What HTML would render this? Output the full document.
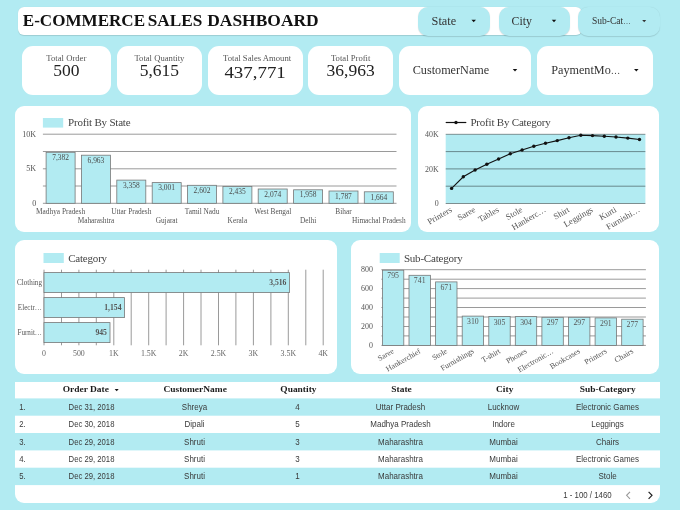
<!DOCTYPE html><html><head><meta charset="utf-8"><style>
html,body{margin:0;padding:0;}
body{width:680px;height:510px;overflow:hidden;background:#b2ebf2;position:relative;font-family:"Liberation Serif", serif;}
svg{position:absolute;left:0;top:0;will-change:transform;}
</style></head><body>
<div style="position:absolute;left:17.5px;top:7px;width:564.5px;height:28.200000000000003px;border-radius:6px;background:#fff;box-shadow:0 0.5px 0.8px rgba(0,0,0,0.13);"></div>
<div style="position:absolute;left:417.5px;top:7px;width:72.5px;height:28.5px;border-radius:10px;background:#b2ebf2;box-shadow:0 0.6px 1px rgba(0,0,0,0.13);"></div>
<div style="position:absolute;left:498.5px;top:7px;width:71.5px;height:28.5px;border-radius:10px;background:#b2ebf2;box-shadow:0 0.6px 1px rgba(0,0,0,0.13);"></div>
<div style="position:absolute;left:578px;top:7px;width:82px;height:28.5px;border-radius:10px;background:#b2ebf2;box-shadow:0 0.6px 1px rgba(0,0,0,0.13);"></div>
<div style="position:absolute;left:22px;top:46.2px;width:88.7px;height:48.7px;border-radius:11px;background:#fff;"></div>
<div style="position:absolute;left:116.8px;top:46.2px;width:85.2px;height:48.7px;border-radius:11px;background:#fff;"></div>
<div style="position:absolute;left:207.5px;top:46.2px;width:95.19999999999999px;height:48.7px;border-radius:11px;background:#fff;"></div>
<div style="position:absolute;left:308.3px;top:46.2px;width:84.69999999999999px;height:48.7px;border-radius:11px;background:#fff;"></div>
<div style="position:absolute;left:399.3px;top:46.2px;width:131.90000000000003px;height:48.7px;border-radius:11px;background:#fff;"></div>
<div style="position:absolute;left:537px;top:46.2px;width:115.89999999999998px;height:48.7px;border-radius:11px;background:#fff;"></div>
<div style="position:absolute;left:15px;top:105.5px;width:396px;height:126.30000000000001px;border-radius:9px;background:#fff;"></div>
<div style="position:absolute;left:417.7px;top:105.5px;width:241.59999999999997px;height:126.30000000000001px;border-radius:9px;background:#fff;"></div>
<div style="position:absolute;left:14.7px;top:240.2px;width:322.1px;height:133.5px;border-radius:9px;background:#fff;"></div>
<div style="position:absolute;left:350.7px;top:240.2px;width:308.8px;height:133.5px;border-radius:9px;background:#fff;"></div>
<div style="position:absolute;left:14.6px;top:381.8px;width:645.6px;height:121.09999999999997px;border-radius:0 0 9px 9px;background:#fff;"></div>
<svg width="680" height="510" viewBox="0 0 680 510">
<text x="0" y="0" transform="translate(22.80 26.00) scale(1.08 1)" font-size="15.8" fill="#111" font-family='"Liberation Serif", serif' font-weight="bold" text-anchor="start" letter-spacing="0" >E-COMMERCE</text>
<text x="0" y="0" transform="translate(147.80 26.00) scale(1.09 1)" font-size="15.8" fill="#111" font-family='"Liberation Serif", serif' font-weight="bold" text-anchor="start" letter-spacing="0" >SALES</text>
<text x="0" y="0" transform="translate(207.20 26.00) scale(1.105 1)" font-size="15.8" fill="#111" font-family='"Liberation Serif", serif' font-weight="bold" text-anchor="start" letter-spacing="0" >DASHBOARD</text>
<text x="0" y="0" transform="translate(431.60 24.60) scale(1.06 1)" font-size="11.6" fill="#333" font-family='"Liberation Serif", serif' font-weight="normal" text-anchor="start" letter-spacing="0" >State</text>
<path d="M471.45 19.85 L475.95 19.85 L473.7 22.35 Z" fill="#111"/>
<text x="0" y="0" transform="translate(511.60 24.60) scale(1.02 1)" font-size="11.6" fill="#333" font-family='"Liberation Serif", serif' font-weight="normal" text-anchor="start" letter-spacing="0" >City</text>
<path d="M551.75 19.85 L556.25 19.85 L554 22.35 Z" fill="#111"/>
<text x="592" y="24.2" font-size="9.5" fill="#333" font-family='"Liberation Serif", serif' font-weight="normal" text-anchor="start" letter-spacing="0" >Sub-Cat<tspan font-size='7.5'>…</tspan></text>
<path d="M642.2 19.950000000000003 L646.2 19.950000000000003 L644.2 22.25 Z" fill="#333"/>
<text x="0" y="0" transform="translate(66.35 60.60) scale(1.03 1)" font-size="8.4" fill="#555" font-family='"Liberation Serif", serif' font-weight="normal" text-anchor="middle" letter-spacing="0" >Total Order</text>
<text x="66.35" y="76.1" font-size="17.5" fill="#222" font-family='"Liberation Serif", serif' font-weight="normal" text-anchor="middle" letter-spacing="0" >500</text>
<text x="0" y="0" transform="translate(159.40 60.60) scale(1.03 1)" font-size="8.4" fill="#555" font-family='"Liberation Serif", serif' font-weight="normal" text-anchor="middle" letter-spacing="0" >Total Quantity</text>
<text x="159.4" y="76.1" font-size="17.5" fill="#222" font-family='"Liberation Serif", serif' font-weight="normal" text-anchor="middle" letter-spacing="0" >5,615</text>
<text x="0" y="0" transform="translate(257.10 60.60) scale(1.03 1)" font-size="8.4" fill="#555" font-family='"Liberation Serif", serif' font-weight="normal" text-anchor="middle" letter-spacing="0" >Total Sales Amount</text>
<text x="0" y="0" transform="translate(255.10 77.90) scale(1.08 1)" font-size="17.5" fill="#222" font-family='"Liberation Serif", serif' font-weight="normal" text-anchor="middle" letter-spacing="0" >437,771</text>
<text x="0" y="0" transform="translate(350.65 60.60) scale(1.03 1)" font-size="8.4" fill="#555" font-family='"Liberation Serif", serif' font-weight="normal" text-anchor="middle" letter-spacing="0" >Total Profit</text>
<text x="350.65" y="76.1" font-size="17.5" fill="#222" font-family='"Liberation Serif", serif' font-weight="normal" text-anchor="middle" letter-spacing="0" >36,963</text>
<text x="412.7" y="74.2" font-size="12.2" fill="#333" font-family='"Liberation Serif", serif' font-weight="normal" text-anchor="start" letter-spacing="0" >CustomerName</text>
<path d="M512.75 69.05 L517.25 69.05 L515 71.55 Z" fill="#111"/>
<text x="551.2" y="74.2" font-size="12.2" fill="#333" font-family='"Liberation Serif", serif' font-weight="normal" text-anchor="start" letter-spacing="0" >PaymentMo<tspan font-size='9.5'>…</tspan></text>
<path d="M634.05 69.05 L638.55 69.05 L636.3 71.55 Z" fill="#111"/>
<rect x="42.9" y="118" width="20.3" height="9.6" fill="#b2ebf2"/>
<text x="68" y="126.4" font-size="11" fill="#444" font-family='"Liberation Serif", serif' font-weight="normal" text-anchor="start" letter-spacing="-0.2" >Profit By State</text>
<line x1="42.9" y1="203.3" x2="396.5" y2="203.3" stroke="#9a9a9a" stroke-width="1"/>
<line x1="42.9" y1="186.0" x2="396.5" y2="186.0" stroke="#9a9a9a" stroke-width="1"/>
<line x1="42.9" y1="168.8" x2="396.5" y2="168.8" stroke="#9a9a9a" stroke-width="1"/>
<line x1="42.9" y1="151.5" x2="396.5" y2="151.5" stroke="#9a9a9a" stroke-width="1"/>
<line x1="42.9" y1="134.2" x2="396.5" y2="134.2" stroke="#9a9a9a" stroke-width="1"/>
<text x="0" y="0" transform="translate(36.20 206.00) scale(1.08 1)" font-size="7.5" fill="#555" font-family='"Liberation Serif", serif' font-weight="normal" text-anchor="end" letter-spacing="0" >0</text>
<text x="0" y="0" transform="translate(36.20 171.45) scale(1.08 1)" font-size="7.5" fill="#555" font-family='"Liberation Serif", serif' font-weight="normal" text-anchor="end" letter-spacing="0" >5K</text>
<text x="0" y="0" transform="translate(36.20 136.90) scale(1.08 1)" font-size="7.5" fill="#555" font-family='"Liberation Serif", serif' font-weight="normal" text-anchor="end" letter-spacing="0" >10K</text>
<rect x="46.1" y="152.3" width="29" height="51.0" fill="#b2ebf2" stroke="#777" stroke-width="0.8"/>
<text x="0" y="0" transform="translate(60.58 159.99) scale(1.04 1)" font-size="7.2" fill="#4a4a4a" font-family='"Liberation Serif", serif' font-weight="normal" text-anchor="middle" letter-spacing="0" >7,382</text>
<text x="0" y="0" transform="translate(60.58 213.50) scale(0.98 1)" font-size="7.5" fill="#555" font-family='"Liberation Serif", serif' font-weight="normal" text-anchor="middle" letter-spacing="0" >Madhya Pradesh</text>
<rect x="81.4" y="155.2" width="29" height="48.1" fill="#b2ebf2" stroke="#777" stroke-width="0.8"/>
<text x="0" y="0" transform="translate(95.94 162.89) scale(1.04 1)" font-size="7.2" fill="#4a4a4a" font-family='"Liberation Serif", serif' font-weight="normal" text-anchor="middle" letter-spacing="0" >6,963</text>
<text x="0" y="0" transform="translate(95.94 222.60) scale(0.98 1)" font-size="7.5" fill="#555" font-family='"Liberation Serif", serif' font-weight="normal" text-anchor="middle" letter-spacing="0" >Maharashtra</text>
<rect x="116.8" y="180.1" width="29" height="23.2" fill="#b2ebf2" stroke="#777" stroke-width="0.8"/>
<text x="0" y="0" transform="translate(131.30 187.80) scale(1.04 1)" font-size="7.2" fill="#4a4a4a" font-family='"Liberation Serif", serif' font-weight="normal" text-anchor="middle" letter-spacing="0" >3,358</text>
<text x="0" y="0" transform="translate(131.30 213.50) scale(0.98 1)" font-size="7.5" fill="#555" font-family='"Liberation Serif", serif' font-weight="normal" text-anchor="middle" letter-spacing="0" >Uttar Pradesh</text>
<rect x="152.2" y="182.6" width="29" height="20.7" fill="#b2ebf2" stroke="#777" stroke-width="0.8"/>
<text x="0" y="0" transform="translate(166.66 190.26) scale(1.04 1)" font-size="7.2" fill="#4a4a4a" font-family='"Liberation Serif", serif' font-weight="normal" text-anchor="middle" letter-spacing="0" >3,001</text>
<text x="0" y="0" transform="translate(166.66 222.60) scale(0.98 1)" font-size="7.5" fill="#555" font-family='"Liberation Serif", serif' font-weight="normal" text-anchor="middle" letter-spacing="0" >Gujarat</text>
<rect x="187.5" y="185.3" width="29" height="18.0" fill="#b2ebf2" stroke="#777" stroke-width="0.8"/>
<text x="0" y="0" transform="translate(202.02 193.02) scale(1.04 1)" font-size="7.2" fill="#4a4a4a" font-family='"Liberation Serif", serif' font-weight="normal" text-anchor="middle" letter-spacing="0" >2,602</text>
<text x="0" y="0" transform="translate(202.02 213.50) scale(0.98 1)" font-size="7.5" fill="#555" font-family='"Liberation Serif", serif' font-weight="normal" text-anchor="middle" letter-spacing="0" >Tamil Nadu</text>
<rect x="222.9" y="186.5" width="29" height="16.8" fill="#b2ebf2" stroke="#777" stroke-width="0.8"/>
<text x="0" y="0" transform="translate(237.38 194.17) scale(1.04 1)" font-size="7.2" fill="#4a4a4a" font-family='"Liberation Serif", serif' font-weight="normal" text-anchor="middle" letter-spacing="0" >2,435</text>
<text x="0" y="0" transform="translate(237.38 222.60) scale(0.98 1)" font-size="7.5" fill="#555" font-family='"Liberation Serif", serif' font-weight="normal" text-anchor="middle" letter-spacing="0" >Kerala</text>
<rect x="258.2" y="189.0" width="29" height="14.3" fill="#b2ebf2" stroke="#777" stroke-width="0.8"/>
<text x="0" y="0" transform="translate(272.74 196.67) scale(1.04 1)" font-size="7.2" fill="#4a4a4a" font-family='"Liberation Serif", serif' font-weight="normal" text-anchor="middle" letter-spacing="0" >2,074</text>
<text x="0" y="0" transform="translate(272.74 213.50) scale(0.98 1)" font-size="7.5" fill="#555" font-family='"Liberation Serif", serif' font-weight="normal" text-anchor="middle" letter-spacing="0" >West Bengal</text>
<rect x="293.6" y="189.8" width="29" height="13.5" fill="#b2ebf2" stroke="#777" stroke-width="0.8"/>
<text x="0" y="0" transform="translate(308.10 197.47) scale(1.04 1)" font-size="7.2" fill="#4a4a4a" font-family='"Liberation Serif", serif' font-weight="normal" text-anchor="middle" letter-spacing="0" >1,958</text>
<text x="0" y="0" transform="translate(308.10 222.60) scale(0.98 1)" font-size="7.5" fill="#555" font-family='"Liberation Serif", serif' font-weight="normal" text-anchor="middle" letter-spacing="0" >Delhi</text>
<rect x="329.0" y="191.0" width="29" height="12.3" fill="#b2ebf2" stroke="#777" stroke-width="0.8"/>
<text x="0" y="0" transform="translate(343.46 198.65) scale(1.04 1)" font-size="7.2" fill="#4a4a4a" font-family='"Liberation Serif", serif' font-weight="normal" text-anchor="middle" letter-spacing="0" >1,787</text>
<text x="0" y="0" transform="translate(343.46 213.50) scale(0.98 1)" font-size="7.5" fill="#555" font-family='"Liberation Serif", serif' font-weight="normal" text-anchor="middle" letter-spacing="0" >Bihar</text>
<rect x="364.3" y="191.8" width="29" height="11.5" fill="#b2ebf2" stroke="#777" stroke-width="0.8"/>
<text x="0" y="0" transform="translate(378.82 199.50) scale(1.04 1)" font-size="7.2" fill="#4a4a4a" font-family='"Liberation Serif", serif' font-weight="normal" text-anchor="middle" letter-spacing="0" >1,664</text>
<text x="0" y="0" transform="translate(378.82 222.60) scale(0.98 1)" font-size="7.5" fill="#555" font-family='"Liberation Serif", serif' font-weight="normal" text-anchor="middle" letter-spacing="0" >Himachal Pradesh</text>
<rect x="445.7" y="134.3" width="199.7" height="69.2" fill="#b2ebf2"/>
<line x1="445.7" y1="203.5" x2="645.4" y2="203.5" stroke="#000" stroke-opacity="0.42" stroke-width="1"/>
<line x1="445.7" y1="186.2" x2="645.4" y2="186.2" stroke="#000" stroke-opacity="0.42" stroke-width="1"/>
<line x1="445.7" y1="168.9" x2="645.4" y2="168.9" stroke="#000" stroke-opacity="0.42" stroke-width="1"/>
<line x1="445.7" y1="151.6" x2="645.4" y2="151.6" stroke="#000" stroke-opacity="0.42" stroke-width="1"/>
<line x1="445.7" y1="134.3" x2="645.4" y2="134.3" stroke="#000" stroke-opacity="0.42" stroke-width="1"/>
<text x="0" y="0" transform="translate(438.80 206.20) scale(1.06 1)" font-size="7.5" fill="#555" font-family='"Liberation Serif", serif' font-weight="normal" text-anchor="end" letter-spacing="0" >0</text>
<text x="0" y="0" transform="translate(438.80 171.60) scale(1.06 1)" font-size="7.5" fill="#555" font-family='"Liberation Serif", serif' font-weight="normal" text-anchor="end" letter-spacing="0" >20K</text>
<text x="0" y="0" transform="translate(438.80 137.00) scale(1.06 1)" font-size="7.5" fill="#555" font-family='"Liberation Serif", serif' font-weight="normal" text-anchor="end" letter-spacing="0" >40K</text>
<line x1="445.7" y1="122.5" x2="466.3" y2="122.5" stroke="#111" stroke-width="1.2"/><circle cx="456" cy="122.5" r="1.7" fill="#111"/>
<text x="470.4" y="126.4" font-size="11" fill="#444" font-family='"Liberation Serif", serif' font-weight="normal" text-anchor="start" letter-spacing="-0.2" >Profit By Category</text>
<path d="M451.6 188.4 L463.3 176.8 L475.1 170.0 L486.8 164.2 L498.6 159.0 L510.3 153.8 L522.1 150.0 L533.8 146.3 L545.5 143.3 L557.3 140.6 L569.0 137.8 L580.8 135.3 L592.5 135.6 L604.3 136.2 L616.0 137.0 L627.8 138.1 L639.5 139.5" fill="none" stroke="#111" stroke-width="1.1"/>
<circle cx="451.6" cy="188.4" r="1.7" fill="#111"/>
<circle cx="463.3" cy="176.8" r="1.7" fill="#111"/>
<circle cx="475.1" cy="170.0" r="1.7" fill="#111"/>
<circle cx="486.8" cy="164.2" r="1.7" fill="#111"/>
<circle cx="498.6" cy="159.0" r="1.7" fill="#111"/>
<circle cx="510.3" cy="153.8" r="1.7" fill="#111"/>
<circle cx="522.1" cy="150.0" r="1.7" fill="#111"/>
<circle cx="533.8" cy="146.3" r="1.7" fill="#111"/>
<circle cx="545.5" cy="143.3" r="1.7" fill="#111"/>
<circle cx="557.3" cy="140.6" r="1.7" fill="#111"/>
<circle cx="569.0" cy="137.8" r="1.7" fill="#111"/>
<circle cx="580.8" cy="135.3" r="1.7" fill="#111"/>
<circle cx="592.5" cy="135.6" r="1.7" fill="#111"/>
<circle cx="604.3" cy="136.2" r="1.7" fill="#111"/>
<circle cx="616.0" cy="137.0" r="1.7" fill="#111"/>
<circle cx="627.8" cy="138.1" r="1.7" fill="#111"/>
<circle cx="639.5" cy="139.5" r="1.7" fill="#111"/>
<text x="452.6" y="211.3" font-size="8.6" fill="#555" font-family='"Liberation Serif", serif' text-anchor="end" transform="rotate(-30 452.6 211.3)">Printers</text>
<text x="476.1" y="211.3" font-size="8.6" fill="#555" font-family='"Liberation Serif", serif' text-anchor="end" transform="rotate(-30 476.1 211.3)">Saree</text>
<text x="499.6" y="211.3" font-size="8.6" fill="#555" font-family='"Liberation Serif", serif' text-anchor="end" transform="rotate(-30 499.6 211.3)">Tables</text>
<text x="523.1" y="211.3" font-size="8.6" fill="#555" font-family='"Liberation Serif", serif' text-anchor="end" transform="rotate(-30 523.1 211.3)">Stole</text>
<text x="546.5" y="211.3" font-size="8.6" fill="#555" font-family='"Liberation Serif", serif' text-anchor="end" transform="rotate(-30 546.5 211.3)">Hankerc…</text>
<text x="570.0" y="211.3" font-size="8.6" fill="#555" font-family='"Liberation Serif", serif' text-anchor="end" transform="rotate(-30 570.0 211.3)">Shirt</text>
<text x="593.5" y="211.3" font-size="8.6" fill="#555" font-family='"Liberation Serif", serif' text-anchor="end" transform="rotate(-30 593.5 211.3)">Leggings</text>
<text x="617.0" y="211.3" font-size="8.6" fill="#555" font-family='"Liberation Serif", serif' text-anchor="end" transform="rotate(-30 617.0 211.3)">Kurti</text>
<text x="640.5" y="211.3" font-size="8.6" fill="#555" font-family='"Liberation Serif", serif' text-anchor="end" transform="rotate(-30 640.5 211.3)">Furnishi…</text>
<rect x="43.5" y="253" width="20.3" height="10" fill="#b2ebf2"/>
<text x="68.2" y="261.8" font-size="11" fill="#444" font-family='"Liberation Serif", serif' font-weight="normal" text-anchor="start" letter-spacing="-0.2" >Category</text>
<line x1="44.0" y1="269.7" x2="44.0" y2="345.3" stroke="#9a9a9a" stroke-width="1"/>
<line x1="61.5" y1="269.7" x2="61.5" y2="345.3" stroke="#9a9a9a" stroke-width="1"/>
<line x1="78.9" y1="269.7" x2="78.9" y2="345.3" stroke="#9a9a9a" stroke-width="1"/>
<line x1="96.3" y1="269.7" x2="96.3" y2="345.3" stroke="#9a9a9a" stroke-width="1"/>
<line x1="113.8" y1="269.7" x2="113.8" y2="345.3" stroke="#9a9a9a" stroke-width="1"/>
<line x1="131.2" y1="269.7" x2="131.2" y2="345.3" stroke="#9a9a9a" stroke-width="1"/>
<line x1="148.7" y1="269.7" x2="148.7" y2="345.3" stroke="#9a9a9a" stroke-width="1"/>
<line x1="166.1" y1="269.7" x2="166.1" y2="345.3" stroke="#9a9a9a" stroke-width="1"/>
<line x1="183.6" y1="269.7" x2="183.6" y2="345.3" stroke="#9a9a9a" stroke-width="1"/>
<line x1="201.0" y1="269.7" x2="201.0" y2="345.3" stroke="#9a9a9a" stroke-width="1"/>
<line x1="218.5" y1="269.7" x2="218.5" y2="345.3" stroke="#9a9a9a" stroke-width="1"/>
<line x1="235.9" y1="269.7" x2="235.9" y2="345.3" stroke="#9a9a9a" stroke-width="1"/>
<line x1="253.4" y1="269.7" x2="253.4" y2="345.3" stroke="#9a9a9a" stroke-width="1"/>
<line x1="270.9" y1="269.7" x2="270.9" y2="345.3" stroke="#9a9a9a" stroke-width="1"/>
<line x1="288.3" y1="269.7" x2="288.3" y2="345.3" stroke="#9a9a9a" stroke-width="1"/>
<line x1="305.8" y1="269.7" x2="305.8" y2="345.3" stroke="#9a9a9a" stroke-width="1"/>
<line x1="323.2" y1="269.7" x2="323.2" y2="345.3" stroke="#9a9a9a" stroke-width="1"/>
<text x="0" y="0" transform="translate(44.00 356.00) scale(1.05 1)" font-size="7.5" fill="#666" font-family='"Liberation Serif", serif' font-weight="normal" text-anchor="middle" letter-spacing="0" >0</text>
<text x="0" y="0" transform="translate(78.90 356.00) scale(1.05 1)" font-size="7.5" fill="#666" font-family='"Liberation Serif", serif' font-weight="normal" text-anchor="middle" letter-spacing="0" >500</text>
<text x="0" y="0" transform="translate(113.80 356.00) scale(1.05 1)" font-size="7.5" fill="#666" font-family='"Liberation Serif", serif' font-weight="normal" text-anchor="middle" letter-spacing="0" >1K</text>
<text x="0" y="0" transform="translate(148.70 356.00) scale(1.05 1)" font-size="7.5" fill="#666" font-family='"Liberation Serif", serif' font-weight="normal" text-anchor="middle" letter-spacing="0" >1.5K</text>
<text x="0" y="0" transform="translate(183.60 356.00) scale(1.05 1)" font-size="7.5" fill="#666" font-family='"Liberation Serif", serif' font-weight="normal" text-anchor="middle" letter-spacing="0" >2K</text>
<text x="0" y="0" transform="translate(218.50 356.00) scale(1.05 1)" font-size="7.5" fill="#666" font-family='"Liberation Serif", serif' font-weight="normal" text-anchor="middle" letter-spacing="0" >2.5K</text>
<text x="0" y="0" transform="translate(253.40 356.00) scale(1.05 1)" font-size="7.5" fill="#666" font-family='"Liberation Serif", serif' font-weight="normal" text-anchor="middle" letter-spacing="0" >3K</text>
<text x="0" y="0" transform="translate(288.30 356.00) scale(1.05 1)" font-size="7.5" fill="#666" font-family='"Liberation Serif", serif' font-weight="normal" text-anchor="middle" letter-spacing="0" >3.5K</text>
<text x="0" y="0" transform="translate(323.20 356.00) scale(1.05 1)" font-size="7.5" fill="#666" font-family='"Liberation Serif", serif' font-weight="normal" text-anchor="middle" letter-spacing="0" >4K</text>
<rect x="44.0" y="272.6" width="245.4" height="20" fill="#b2ebf2" stroke="#777" stroke-width="0.8"/>
<text x="0" y="0" transform="translate(286.42 285.40) scale(1.04 1)" font-size="7.4" fill="#555" font-family='"Liberation Serif", serif' font-weight="bold" text-anchor="end" letter-spacing="0" >3,516</text>
<text x="0" y="0" transform="translate(42.00 285.40) scale(0.94 1)" font-size="7.6" fill="#555" font-family='"Liberation Serif", serif' font-weight="normal" text-anchor="end" letter-spacing="0" >Clothing</text>
<rect x="44.0" y="297.6" width="80.5" height="20" fill="#b2ebf2" stroke="#777" stroke-width="0.8"/>
<text x="0" y="0" transform="translate(121.55 310.40) scale(1.04 1)" font-size="7.4" fill="#555" font-family='"Liberation Serif", serif' font-weight="bold" text-anchor="end" letter-spacing="0" >1,154</text>
<text x="0" y="0" transform="translate(42.00 310.40) scale(0.94 1)" font-size="7.6" fill="#555" font-family='"Liberation Serif", serif' font-weight="normal" text-anchor="end" letter-spacing="0" >Electr…</text>
<rect x="44.0" y="322.6" width="66.0" height="20" fill="#b2ebf2" stroke="#777" stroke-width="0.8"/>
<text x="0" y="0" transform="translate(106.96 335.40) scale(1.04 1)" font-size="7.4" fill="#555" font-family='"Liberation Serif", serif' font-weight="bold" text-anchor="end" letter-spacing="0" >945</text>
<text x="0" y="0" transform="translate(42.00 335.40) scale(0.94 1)" font-size="7.6" fill="#555" font-family='"Liberation Serif", serif' font-weight="normal" text-anchor="end" letter-spacing="0" >Furnit…</text>
<rect x="379.7" y="253" width="20" height="10" fill="#b2ebf2"/>
<text x="403.9" y="261.8" font-size="11" fill="#444" font-family='"Liberation Serif", serif' font-weight="normal" text-anchor="start" letter-spacing="-0.2" >Sub-Category</text>
<line x1="381.4" y1="345.4" x2="645.9" y2="345.4" stroke="#9a9a9a" stroke-width="1"/>
<line x1="381.4" y1="335.9" x2="645.9" y2="335.9" stroke="#9a9a9a" stroke-width="1"/>
<line x1="381.4" y1="326.5" x2="645.9" y2="326.5" stroke="#9a9a9a" stroke-width="1"/>
<line x1="381.4" y1="317.0" x2="645.9" y2="317.0" stroke="#9a9a9a" stroke-width="1"/>
<line x1="381.4" y1="307.5" x2="645.9" y2="307.5" stroke="#9a9a9a" stroke-width="1"/>
<line x1="381.4" y1="298.1" x2="645.9" y2="298.1" stroke="#9a9a9a" stroke-width="1"/>
<line x1="381.4" y1="288.6" x2="645.9" y2="288.6" stroke="#9a9a9a" stroke-width="1"/>
<line x1="381.4" y1="279.2" x2="645.9" y2="279.2" stroke="#9a9a9a" stroke-width="1"/>
<line x1="381.4" y1="269.7" x2="645.9" y2="269.7" stroke="#9a9a9a" stroke-width="1"/>
<text x="0" y="0" transform="translate(372.90 348.10) scale(1.06 1)" font-size="7.5" fill="#555" font-family='"Liberation Serif", serif' font-weight="normal" text-anchor="end" letter-spacing="0" >0</text>
<text x="0" y="0" transform="translate(372.90 329.17) scale(1.06 1)" font-size="7.5" fill="#555" font-family='"Liberation Serif", serif' font-weight="normal" text-anchor="end" letter-spacing="0" >200</text>
<text x="0" y="0" transform="translate(372.90 310.25) scale(1.06 1)" font-size="7.5" fill="#555" font-family='"Liberation Serif", serif' font-weight="normal" text-anchor="end" letter-spacing="0" >400</text>
<text x="0" y="0" transform="translate(372.90 291.32) scale(1.06 1)" font-size="7.5" fill="#555" font-family='"Liberation Serif", serif' font-weight="normal" text-anchor="end" letter-spacing="0" >600</text>
<text x="0" y="0" transform="translate(372.90 272.40) scale(1.06 1)" font-size="7.5" fill="#555" font-family='"Liberation Serif", serif' font-weight="normal" text-anchor="end" letter-spacing="0" >800</text>
<rect x="382.4" y="270.2" width="21.4" height="75.2" fill="#b2ebf2" stroke="#777" stroke-width="0.8"/>
<text x="0" y="0" transform="translate(393.10 278.27) scale(1.05 1)" font-size="7.4" fill="#555" font-family='"Liberation Serif", serif' font-weight="normal" text-anchor="middle" letter-spacing="0" >795</text>
<text x="394.6" y="352.6" font-size="7.8" fill="#555" font-family='"Liberation Serif", serif' text-anchor="end" transform="rotate(-30 394.6 352.6)">Saree</text>
<rect x="409.0" y="275.3" width="21.4" height="70.1" fill="#b2ebf2" stroke="#777" stroke-width="0.8"/>
<text x="0" y="0" transform="translate(419.69 283.38) scale(1.05 1)" font-size="7.4" fill="#555" font-family='"Liberation Serif", serif' font-weight="normal" text-anchor="middle" letter-spacing="0" >741</text>
<text x="421.2" y="352.6" font-size="7.8" fill="#555" font-family='"Liberation Serif", serif' text-anchor="end" transform="rotate(-30 421.2 352.6)">Hankerchief</text>
<rect x="435.6" y="281.9" width="21.4" height="63.5" fill="#b2ebf2" stroke="#777" stroke-width="0.8"/>
<text x="0" y="0" transform="translate(446.28 290.01) scale(1.05 1)" font-size="7.4" fill="#555" font-family='"Liberation Serif", serif' font-weight="normal" text-anchor="middle" letter-spacing="0" >671</text>
<text x="447.8" y="352.6" font-size="7.8" fill="#555" font-family='"Liberation Serif", serif' text-anchor="end" transform="rotate(-30 447.8 352.6)">Stole</text>
<rect x="462.2" y="316.1" width="21.4" height="29.3" fill="#b2ebf2" stroke="#777" stroke-width="0.8"/>
<text x="0" y="0" transform="translate(472.87 324.17) scale(1.05 1)" font-size="7.4" fill="#555" font-family='"Liberation Serif", serif' font-weight="normal" text-anchor="middle" letter-spacing="0" >310</text>
<text x="474.4" y="352.6" font-size="7.8" fill="#555" font-family='"Liberation Serif", serif' text-anchor="end" transform="rotate(-30 474.4 352.6)">Furnishings</text>
<rect x="488.8" y="316.5" width="21.4" height="28.9" fill="#b2ebf2" stroke="#777" stroke-width="0.8"/>
<text x="0" y="0" transform="translate(499.46 324.64) scale(1.05 1)" font-size="7.4" fill="#555" font-family='"Liberation Serif", serif' font-weight="normal" text-anchor="middle" letter-spacing="0" >305</text>
<text x="501.0" y="352.6" font-size="7.8" fill="#555" font-family='"Liberation Serif", serif' text-anchor="end" transform="rotate(-30 501.0 352.6)">T-shirt</text>
<rect x="515.3" y="316.6" width="21.4" height="28.8" fill="#b2ebf2" stroke="#777" stroke-width="0.8"/>
<text x="0" y="0" transform="translate(526.05 324.73) scale(1.05 1)" font-size="7.4" fill="#555" font-family='"Liberation Serif", serif' font-weight="normal" text-anchor="middle" letter-spacing="0" >304</text>
<text x="527.5" y="352.6" font-size="7.8" fill="#555" font-family='"Liberation Serif", serif' text-anchor="end" transform="rotate(-30 527.5 352.6)">Phones</text>
<rect x="541.9" y="317.3" width="21.4" height="28.1" fill="#b2ebf2" stroke="#777" stroke-width="0.8"/>
<text x="0" y="0" transform="translate(552.64 325.40) scale(1.05 1)" font-size="7.4" fill="#555" font-family='"Liberation Serif", serif' font-weight="normal" text-anchor="middle" letter-spacing="0" >297</text>
<text x="554.1" y="352.6" font-size="7.8" fill="#555" font-family='"Liberation Serif", serif' text-anchor="end" transform="rotate(-30 554.1 352.6)">Electronic…</text>
<rect x="568.5" y="317.3" width="21.4" height="28.1" fill="#b2ebf2" stroke="#777" stroke-width="0.8"/>
<text x="0" y="0" transform="translate(579.23 325.40) scale(1.05 1)" font-size="7.4" fill="#555" font-family='"Liberation Serif", serif' font-weight="normal" text-anchor="middle" letter-spacing="0" >297</text>
<text x="580.7" y="352.6" font-size="7.8" fill="#555" font-family='"Liberation Serif", serif' text-anchor="end" transform="rotate(-30 580.7 352.6)">Bookcases</text>
<rect x="595.1" y="317.9" width="21.4" height="27.5" fill="#b2ebf2" stroke="#777" stroke-width="0.8"/>
<text x="0" y="0" transform="translate(605.82 325.96) scale(1.05 1)" font-size="7.4" fill="#555" font-family='"Liberation Serif", serif' font-weight="normal" text-anchor="middle" letter-spacing="0" >291</text>
<text x="607.3" y="352.6" font-size="7.8" fill="#555" font-family='"Liberation Serif", serif' text-anchor="end" transform="rotate(-30 607.3 352.6)">Printers</text>
<rect x="621.7" y="319.2" width="21.4" height="26.2" fill="#b2ebf2" stroke="#777" stroke-width="0.8"/>
<text x="0" y="0" transform="translate(632.41 327.29) scale(1.05 1)" font-size="7.4" fill="#555" font-family='"Liberation Serif", serif' font-weight="normal" text-anchor="middle" letter-spacing="0" >277</text>
<text x="633.9" y="352.6" font-size="7.8" fill="#555" font-family='"Liberation Serif", serif' text-anchor="end" transform="rotate(-30 633.9 352.6)">Chairs</text>
<rect x="14.6" y="398.4" width="645.6" height="17.3" fill="#b2ebf2"/>
<rect x="14.6" y="433.0" width="645.6" height="17.4" fill="#b2ebf2"/>
<rect x="14.6" y="467.7" width="645.6" height="17.4" fill="#b2ebf2"/>
<text x="0" y="0" transform="translate(85.80 392.40) scale(1.05 1)" font-size="9" fill="#1a1a1a" font-family='"Liberation Serif", serif' font-weight="bold" text-anchor="middle" letter-spacing="0" >Order Date</text>
<text x="0" y="0" transform="translate(195.10 392.40) scale(1.05 1)" font-size="9" fill="#1a1a1a" font-family='"Liberation Serif", serif' font-weight="bold" text-anchor="middle" letter-spacing="0" >CustomerName</text>
<text x="0" y="0" transform="translate(298.40 392.40) scale(1.05 1)" font-size="9" fill="#1a1a1a" font-family='"Liberation Serif", serif' font-weight="bold" text-anchor="middle" letter-spacing="0" >Quantity</text>
<text x="0" y="0" transform="translate(401.50 392.40) scale(1.05 1)" font-size="9" fill="#1a1a1a" font-family='"Liberation Serif", serif' font-weight="bold" text-anchor="middle" letter-spacing="0" >State</text>
<text x="0" y="0" transform="translate(504.70 392.40) scale(1.05 1)" font-size="9" fill="#1a1a1a" font-family='"Liberation Serif", serif' font-weight="bold" text-anchor="middle" letter-spacing="0" >City</text>
<text x="0" y="0" transform="translate(607.70 392.40) scale(1.05 1)" font-size="9" fill="#1a1a1a" font-family='"Liberation Serif", serif' font-weight="bold" text-anchor="middle" letter-spacing="0" >Sub-Category</text>
<path d="M114.7 389.05 L118.7 389.05 L116.7 391.34999999999997 Z" fill="#111"/>
<text x="0" y="0" transform="translate(19.20 409.90) scale(0.93 1)" font-size="8.3" fill="#3a3a3a" font-family='"Liberation Sans", sans-serif' font-weight="normal" text-anchor="start" letter-spacing="0" >1.</text>
<text x="0" y="0" transform="translate(91.50 409.90) scale(0.93 1)" font-size="8.3" fill="#3a3a3a" font-family='"Liberation Sans", sans-serif' font-weight="normal" text-anchor="middle" letter-spacing="0" >Dec 31, 2018</text>
<text x="0" y="0" transform="translate(194.50 409.90) scale(0.965 1)" font-size="8.3" fill="#3a3a3a" font-family='"Liberation Sans", sans-serif' font-weight="normal" text-anchor="middle" letter-spacing="0" >Shreya</text>
<text x="0" y="0" transform="translate(297.50 409.90) scale(0.965 1)" font-size="8.3" fill="#3a3a3a" font-family='"Liberation Sans", sans-serif' font-weight="normal" text-anchor="middle" letter-spacing="0" >4</text>
<text x="0" y="0" transform="translate(400.50 409.90) scale(0.965 1)" font-size="8.3" fill="#3a3a3a" font-family='"Liberation Sans", sans-serif' font-weight="normal" text-anchor="middle" letter-spacing="0" >Uttar Pradesh</text>
<text x="0" y="0" transform="translate(503.50 409.90) scale(0.965 1)" font-size="8.3" fill="#3a3a3a" font-family='"Liberation Sans", sans-serif' font-weight="normal" text-anchor="middle" letter-spacing="0" >Lucknow</text>
<text x="0" y="0" transform="translate(607.50 409.90) scale(0.965 1)" font-size="8.3" fill="#3a3a3a" font-family='"Liberation Sans", sans-serif' font-weight="normal" text-anchor="middle" letter-spacing="0" >Electronic Games</text>
<text x="0" y="0" transform="translate(19.20 427.20) scale(0.93 1)" font-size="8.3" fill="#3a3a3a" font-family='"Liberation Sans", sans-serif' font-weight="normal" text-anchor="start" letter-spacing="0" >2.</text>
<text x="0" y="0" transform="translate(91.50 427.20) scale(0.93 1)" font-size="8.3" fill="#3a3a3a" font-family='"Liberation Sans", sans-serif' font-weight="normal" text-anchor="middle" letter-spacing="0" >Dec 30, 2018</text>
<text x="0" y="0" transform="translate(194.50 427.20) scale(0.965 1)" font-size="8.3" fill="#3a3a3a" font-family='"Liberation Sans", sans-serif' font-weight="normal" text-anchor="middle" letter-spacing="0" >Dipali</text>
<text x="0" y="0" transform="translate(297.50 427.20) scale(0.965 1)" font-size="8.3" fill="#3a3a3a" font-family='"Liberation Sans", sans-serif' font-weight="normal" text-anchor="middle" letter-spacing="0" >5</text>
<text x="0" y="0" transform="translate(400.50 427.20) scale(0.965 1)" font-size="8.3" fill="#3a3a3a" font-family='"Liberation Sans", sans-serif' font-weight="normal" text-anchor="middle" letter-spacing="0" >Madhya Pradesh</text>
<text x="0" y="0" transform="translate(503.50 427.20) scale(0.965 1)" font-size="8.3" fill="#3a3a3a" font-family='"Liberation Sans", sans-serif' font-weight="normal" text-anchor="middle" letter-spacing="0" >Indore</text>
<text x="0" y="0" transform="translate(607.50 427.20) scale(0.965 1)" font-size="8.3" fill="#3a3a3a" font-family='"Liberation Sans", sans-serif' font-weight="normal" text-anchor="middle" letter-spacing="0" >Leggings</text>
<text x="0" y="0" transform="translate(19.20 444.50) scale(0.93 1)" font-size="8.3" fill="#3a3a3a" font-family='"Liberation Sans", sans-serif' font-weight="normal" text-anchor="start" letter-spacing="0" >3.</text>
<text x="0" y="0" transform="translate(91.50 444.50) scale(0.93 1)" font-size="8.3" fill="#3a3a3a" font-family='"Liberation Sans", sans-serif' font-weight="normal" text-anchor="middle" letter-spacing="0" >Dec 29, 2018</text>
<text x="0" y="0" transform="translate(194.50 444.50) scale(0.965 1)" font-size="8.3" fill="#3a3a3a" font-family='"Liberation Sans", sans-serif' font-weight="normal" text-anchor="middle" letter-spacing="0" >Shruti</text>
<text x="0" y="0" transform="translate(297.50 444.50) scale(0.965 1)" font-size="8.3" fill="#3a3a3a" font-family='"Liberation Sans", sans-serif' font-weight="normal" text-anchor="middle" letter-spacing="0" >3</text>
<text x="0" y="0" transform="translate(400.50 444.50) scale(0.965 1)" font-size="8.3" fill="#3a3a3a" font-family='"Liberation Sans", sans-serif' font-weight="normal" text-anchor="middle" letter-spacing="0" >Maharashtra</text>
<text x="0" y="0" transform="translate(503.50 444.50) scale(0.965 1)" font-size="8.3" fill="#3a3a3a" font-family='"Liberation Sans", sans-serif' font-weight="normal" text-anchor="middle" letter-spacing="0" >Mumbai</text>
<text x="0" y="0" transform="translate(607.50 444.50) scale(0.965 1)" font-size="8.3" fill="#3a3a3a" font-family='"Liberation Sans", sans-serif' font-weight="normal" text-anchor="middle" letter-spacing="0" >Chairs</text>
<text x="0" y="0" transform="translate(19.20 461.90) scale(0.93 1)" font-size="8.3" fill="#3a3a3a" font-family='"Liberation Sans", sans-serif' font-weight="normal" text-anchor="start" letter-spacing="0" >4.</text>
<text x="0" y="0" transform="translate(91.50 461.90) scale(0.93 1)" font-size="8.3" fill="#3a3a3a" font-family='"Liberation Sans", sans-serif' font-weight="normal" text-anchor="middle" letter-spacing="0" >Dec 29, 2018</text>
<text x="0" y="0" transform="translate(194.50 461.90) scale(0.965 1)" font-size="8.3" fill="#3a3a3a" font-family='"Liberation Sans", sans-serif' font-weight="normal" text-anchor="middle" letter-spacing="0" >Shruti</text>
<text x="0" y="0" transform="translate(297.50 461.90) scale(0.965 1)" font-size="8.3" fill="#3a3a3a" font-family='"Liberation Sans", sans-serif' font-weight="normal" text-anchor="middle" letter-spacing="0" >3</text>
<text x="0" y="0" transform="translate(400.50 461.90) scale(0.965 1)" font-size="8.3" fill="#3a3a3a" font-family='"Liberation Sans", sans-serif' font-weight="normal" text-anchor="middle" letter-spacing="0" >Maharashtra</text>
<text x="0" y="0" transform="translate(503.50 461.90) scale(0.965 1)" font-size="8.3" fill="#3a3a3a" font-family='"Liberation Sans", sans-serif' font-weight="normal" text-anchor="middle" letter-spacing="0" >Mumbai</text>
<text x="0" y="0" transform="translate(607.50 461.90) scale(0.965 1)" font-size="8.3" fill="#3a3a3a" font-family='"Liberation Sans", sans-serif' font-weight="normal" text-anchor="middle" letter-spacing="0" >Electronic Games</text>
<text x="0" y="0" transform="translate(19.20 479.20) scale(0.93 1)" font-size="8.3" fill="#3a3a3a" font-family='"Liberation Sans", sans-serif' font-weight="normal" text-anchor="start" letter-spacing="0" >5.</text>
<text x="0" y="0" transform="translate(91.50 479.20) scale(0.93 1)" font-size="8.3" fill="#3a3a3a" font-family='"Liberation Sans", sans-serif' font-weight="normal" text-anchor="middle" letter-spacing="0" >Dec 29, 2018</text>
<text x="0" y="0" transform="translate(194.50 479.20) scale(0.965 1)" font-size="8.3" fill="#3a3a3a" font-family='"Liberation Sans", sans-serif' font-weight="normal" text-anchor="middle" letter-spacing="0" >Shruti</text>
<text x="0" y="0" transform="translate(297.50 479.20) scale(0.965 1)" font-size="8.3" fill="#3a3a3a" font-family='"Liberation Sans", sans-serif' font-weight="normal" text-anchor="middle" letter-spacing="0" >1</text>
<text x="0" y="0" transform="translate(400.50 479.20) scale(0.965 1)" font-size="8.3" fill="#3a3a3a" font-family='"Liberation Sans", sans-serif' font-weight="normal" text-anchor="middle" letter-spacing="0" >Maharashtra</text>
<text x="0" y="0" transform="translate(503.50 479.20) scale(0.965 1)" font-size="8.3" fill="#3a3a3a" font-family='"Liberation Sans", sans-serif' font-weight="normal" text-anchor="middle" letter-spacing="0" >Mumbai</text>
<text x="0" y="0" transform="translate(607.50 479.20) scale(0.965 1)" font-size="8.3" fill="#3a3a3a" font-family='"Liberation Sans", sans-serif' font-weight="normal" text-anchor="middle" letter-spacing="0" >Stole</text>
<text x="0" y="0" transform="translate(611.60 497.80) scale(0.945 1)" font-size="8.3" fill="#3a3a3a" font-family='"Liberation Sans", sans-serif' font-weight="normal" text-anchor="end" letter-spacing="0" >1 - 100 / 1460</text>
<path d="M630 491.8 L626.6 495.3 L630 498.8" fill="none" stroke="#999" stroke-width="1.1"/>
<path d="M648.6 491.8 L652 495.3 L648.6 498.8" fill="none" stroke="#222" stroke-width="1.2"/>
</svg></body></html>
